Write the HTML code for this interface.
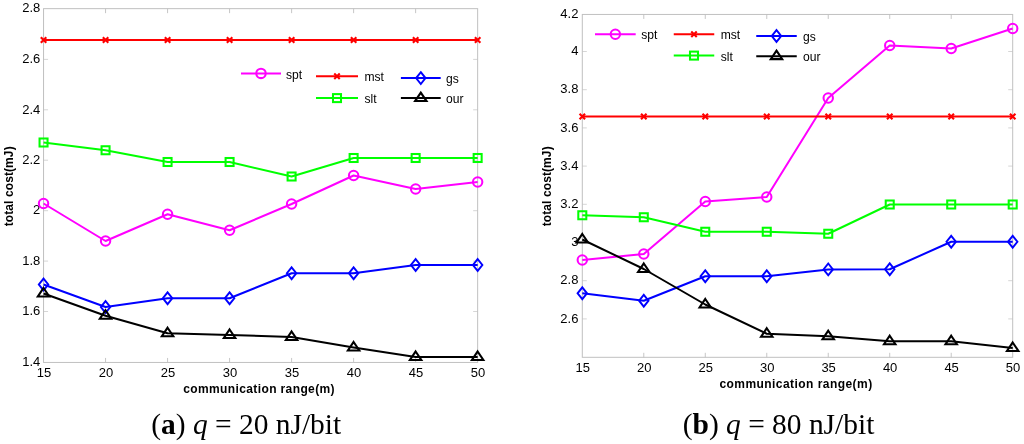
<!DOCTYPE html>
<html><head><meta charset="utf-8"><title>Total cost vs communication range</title>
<style>
html,body{margin:0;padding:0;background:#fff}
body{width:1024px;height:444px;overflow:hidden}
svg{display:block}
text{font-family:"Liberation Sans",Arial,sans-serif;font-size:12px;fill:#000}
.lb{font-weight:bold}
.tk text{font-size:13px}
.lg{font-size:12.1px}
.cap{font-family:"Liberation Serif","Times New Roman",serif;font-size:29.45px}
.cap tspan.b{font-weight:bold}
.cap tspan.i{font-style:italic}
</style></head><body>
<svg width="1024" height="444" viewBox="0 0 1024 444">
<rect width="1024" height="444" fill="#fff"/>
<g id="left">
<rect x="43.55" y="8.65" width="434.1" height="353.8" fill="none" stroke="#c0c0c0" stroke-width="1"/>
<path d="M105.56 362.45v-4.5M105.56 8.65v4.5M167.58 362.45v-4.5M167.58 8.65v4.5M229.59 362.45v-4.5M229.59 8.65v4.5M291.61 362.45v-4.5M291.61 8.65v4.5M353.62 362.45v-4.5M353.62 8.65v4.5M415.64 362.45v-4.5M415.64 8.65v4.5" stroke="#c0c0c0" stroke-width=".9" fill="none"/>
<path d="M43.55 59.4h4.5M477.65 59.4h-4.5M43.55 109.8h4.5M477.65 109.8h-4.5M43.55 160.2h4.5M477.65 160.2h-4.5M43.55 210.7h4.5M477.65 210.7h-4.5M43.55 261.1h4.5M477.65 261.1h-4.5M43.55 311.5h4.5M477.65 311.5h-4.5" stroke="#c0c0c0" stroke-width=".65" fill="none"/>
<g class="tk">
<text x="43.95" y="377.25" text-anchor="middle">15</text>
<text x="105.96" y="377.25" text-anchor="middle">20</text>
<text x="167.98" y="377.25" text-anchor="middle">25</text>
<text x="229.99" y="377.25" text-anchor="middle">30</text>
<text x="292.01" y="377.25" text-anchor="middle">35</text>
<text x="354.02" y="377.25" text-anchor="middle">40</text>
<text x="416.04" y="377.25" text-anchor="middle">45</text>
<text x="478.05" y="377.25" text-anchor="middle">50</text>
<text x="40.3" y="12.35" text-anchor="end">2.8</text>
<text x="40.3" y="63.1" text-anchor="end">2.6</text>
<text x="40.3" y="113.5" text-anchor="end">2.4</text>
<text x="40.3" y="163.9" text-anchor="end">2.2</text>
<text x="40.3" y="214.4" text-anchor="end">2</text>
<text x="40.3" y="264.8" text-anchor="end">1.8</text>
<text x="40.3" y="315.2" text-anchor="end">1.6</text>
<text x="40.3" y="366.15" text-anchor="end">1.4</text>
</g>
<text class="lb" x="259.1" y="393.1" text-anchor="middle" style="letter-spacing:0.38px">communication range(m)</text>
<text class="lb" transform="translate(12.8 186.3) rotate(-90)" text-anchor="middle" style="letter-spacing:.1px">total cost(mJ)</text>
<polyline points="43.55,203.5 105.56,241 167.58,214.25 229.59,230.25 291.61,204 353.62,175.5 415.64,189 477.65,182" fill="none" stroke="#ff00ff" stroke-width="2.0" stroke-linejoin="round"/>
<circle cx="43.55" cy="203.5" r="4.7" fill="none" stroke="#ff00ff" stroke-width="2.05"/>
<circle cx="105.56" cy="241" r="4.7" fill="none" stroke="#ff00ff" stroke-width="2.05"/>
<circle cx="167.58" cy="214.25" r="4.7" fill="none" stroke="#ff00ff" stroke-width="2.05"/>
<circle cx="229.59" cy="230.25" r="4.7" fill="none" stroke="#ff00ff" stroke-width="2.05"/>
<circle cx="291.61" cy="204" r="4.7" fill="none" stroke="#ff00ff" stroke-width="2.05"/>
<circle cx="353.62" cy="175.5" r="4.7" fill="none" stroke="#ff00ff" stroke-width="2.05"/>
<circle cx="415.64" cy="189" r="4.7" fill="none" stroke="#ff00ff" stroke-width="2.05"/>
<circle cx="477.65" cy="182" r="4.7" fill="none" stroke="#ff00ff" stroke-width="2.05"/>
<polyline points="43.55,40.1 105.56,40.1 167.58,40.1 229.59,40.1 291.61,40.1 353.62,40.1 415.64,40.1 477.65,40.1" fill="none" stroke="#ff0000" stroke-width="2.0" stroke-linejoin="round"/>
<path d="M40.8 37.35L46.3 42.85M40.8 42.85L46.3 37.35" fill="none" stroke="#ff0000" stroke-width="2.1"/>
<path d="M102.81 37.35L108.31 42.85M102.81 42.85L108.31 37.35" fill="none" stroke="#ff0000" stroke-width="2.1"/>
<path d="M164.83 37.35L170.33 42.85M164.83 42.85L170.33 37.35" fill="none" stroke="#ff0000" stroke-width="2.1"/>
<path d="M226.84 37.35L232.34 42.85M226.84 42.85L232.34 37.35" fill="none" stroke="#ff0000" stroke-width="2.1"/>
<path d="M288.86 37.35L294.36 42.85M288.86 42.85L294.36 37.35" fill="none" stroke="#ff0000" stroke-width="2.1"/>
<path d="M350.87 37.35L356.37 42.85M350.87 42.85L356.37 37.35" fill="none" stroke="#ff0000" stroke-width="2.1"/>
<path d="M412.89 37.35L418.39 42.85M412.89 42.85L418.39 37.35" fill="none" stroke="#ff0000" stroke-width="2.1"/>
<path d="M474.9 37.35L480.4 42.85M474.9 42.85L480.4 37.35" fill="none" stroke="#ff0000" stroke-width="2.1"/>
<polyline points="43.55,142.5 105.56,150.25 167.58,162 229.59,162 291.61,176.5 353.62,158 415.64,158 477.65,158" fill="none" stroke="#00ff00" stroke-width="2.0" stroke-linejoin="round"/>
<rect x="39.55" y="138.5" width="8" height="8" fill="none" stroke="#00ff00" stroke-width="2.05"/>
<rect x="101.56" y="146.25" width="8" height="8" fill="none" stroke="#00ff00" stroke-width="2.05"/>
<rect x="163.58" y="158" width="8" height="8" fill="none" stroke="#00ff00" stroke-width="2.05"/>
<rect x="225.59" y="158" width="8" height="8" fill="none" stroke="#00ff00" stroke-width="2.05"/>
<rect x="287.61" y="172.5" width="8" height="8" fill="none" stroke="#00ff00" stroke-width="2.05"/>
<rect x="349.62" y="154" width="8" height="8" fill="none" stroke="#00ff00" stroke-width="2.05"/>
<rect x="411.64" y="154" width="8" height="8" fill="none" stroke="#00ff00" stroke-width="2.05"/>
<rect x="473.65" y="154" width="8" height="8" fill="none" stroke="#00ff00" stroke-width="2.05"/>
<polyline points="43.55,284.5 105.56,307 167.58,298.25 229.59,298.25 291.61,273.25 353.62,273.25 415.64,265 477.65,265" fill="none" stroke="#0000ff" stroke-width="2.0" stroke-linejoin="round"/>
<path d="M43.55 278.6L48.25 284.5L43.55 290.4L38.85 284.5Z" fill="none" stroke="#0000ff" stroke-width="1.95" stroke-linejoin="miter"/>
<path d="M105.56 301.1L110.26 307L105.56 312.9L100.86 307Z" fill="none" stroke="#0000ff" stroke-width="1.95" stroke-linejoin="miter"/>
<path d="M167.58 292.35L172.28 298.25L167.58 304.15L162.88 298.25Z" fill="none" stroke="#0000ff" stroke-width="1.95" stroke-linejoin="miter"/>
<path d="M229.59 292.35L234.29 298.25L229.59 304.15L224.89 298.25Z" fill="none" stroke="#0000ff" stroke-width="1.95" stroke-linejoin="miter"/>
<path d="M291.61 267.35L296.31 273.25L291.61 279.15L286.91 273.25Z" fill="none" stroke="#0000ff" stroke-width="1.95" stroke-linejoin="miter"/>
<path d="M353.62 267.35L358.32 273.25L353.62 279.15L348.92 273.25Z" fill="none" stroke="#0000ff" stroke-width="1.95" stroke-linejoin="miter"/>
<path d="M415.64 259.1L420.34 265L415.64 270.9L410.94 265Z" fill="none" stroke="#0000ff" stroke-width="1.95" stroke-linejoin="miter"/>
<path d="M477.65 259.1L482.35 265L477.65 270.9L472.95 265Z" fill="none" stroke="#0000ff" stroke-width="1.95" stroke-linejoin="miter"/>
<polyline points="43.55,293.5 105.56,315.75 167.58,333.25 229.59,335 291.61,337 353.62,347.5 415.64,357 477.65,357" fill="none" stroke="#000000" stroke-width="2.0" stroke-linejoin="round"/>
<path d="M43.55 288L49.25 296.45L37.85 296.45Z" fill="none" stroke="#000000" stroke-width="2.1" stroke-linejoin="miter"/>
<path d="M105.56 310.25L111.26 318.7L99.86 318.7Z" fill="none" stroke="#000000" stroke-width="2.1" stroke-linejoin="miter"/>
<path d="M167.58 327.75L173.28 336.2L161.88 336.2Z" fill="none" stroke="#000000" stroke-width="2.1" stroke-linejoin="miter"/>
<path d="M229.59 329.5L235.29 337.95L223.89 337.95Z" fill="none" stroke="#000000" stroke-width="2.1" stroke-linejoin="miter"/>
<path d="M291.61 331.5L297.31 339.95L285.91 339.95Z" fill="none" stroke="#000000" stroke-width="2.1" stroke-linejoin="miter"/>
<path d="M353.62 342L359.32 350.45L347.92 350.45Z" fill="none" stroke="#000000" stroke-width="2.1" stroke-linejoin="miter"/>
<path d="M415.64 351.5L421.34 359.95L409.94 359.95Z" fill="none" stroke="#000000" stroke-width="2.1" stroke-linejoin="miter"/>
<path d="M477.65 351.5L483.35 359.95L471.95 359.95Z" fill="none" stroke="#000000" stroke-width="2.1" stroke-linejoin="miter"/>
<path d="M241 73.4H281" stroke="#ff00ff" stroke-width="2.0"/>
<circle cx="261" cy="73.4" r="4.7" fill="none" stroke="#ff00ff" stroke-width="2.05"/>
<text class="lg" x="286" y="78.5">spt</text>
<path d="M316 76.25H358" stroke="#ff0000" stroke-width="2.0"/>
<path d="M334.25 73.5L339.75 79M334.25 79L339.75 73.5" fill="none" stroke="#ff0000" stroke-width="2.1"/>
<text class="lg" x="364.5" y="81.3">mst</text>
<path d="M400.9 78.1H440.7" stroke="#0000ff" stroke-width="2.0"/>
<path d="M420.8 72.2L425.5 78.1L420.8 84L416.1 78.1Z" fill="none" stroke="#0000ff" stroke-width="1.95" stroke-linejoin="miter"/>
<text class="lg" x="446" y="82.9">gs</text>
<path d="M316 98.1H358" stroke="#00ff00" stroke-width="2.0"/>
<rect x="333" y="94.1" width="8" height="8" fill="none" stroke="#00ff00" stroke-width="2.05"/>
<text class="lg" x="364.5" y="102.9">slt</text>
<path d="M400.9 98.1H440.7" stroke="#000000" stroke-width="2.0"/>
<path d="M420.8 92.6L426.5 101.05L415.1 101.05Z" fill="none" stroke="#000000" stroke-width="2.1" stroke-linejoin="miter"/>
<text class="lg" x="446" y="102.8">our</text>
</g>
<g id="right">
<rect x="582.3" y="14.45" width="430.4" height="342.85" fill="none" stroke="#c0c0c0" stroke-width="1"/>
<path d="M643.79 357.3v-4.5M643.79 14.45v4.5M705.27 357.3v-4.5M705.27 14.45v4.5M766.76 357.3v-4.5M766.76 14.45v4.5M828.24 357.3v-4.5M828.24 14.45v4.5M889.73 357.3v-4.5M889.73 14.45v4.5M951.21 357.3v-4.5M951.21 14.45v4.5" stroke="#c0c0c0" stroke-width=".9" fill="none"/>
<path d="M582.3 51.5h4.5M1012.7 51.5h-4.5M582.3 89.7h4.5M1012.7 89.7h-4.5M582.3 127.9h4.5M1012.7 127.9h-4.5M582.3 166.1h4.5M1012.7 166.1h-4.5M582.3 204.3h4.5M1012.7 204.3h-4.5M582.3 242.5h4.5M1012.7 242.5h-4.5M582.3 280.7h4.5M1012.7 280.7h-4.5M582.3 318.9h4.5M1012.7 318.9h-4.5" stroke="#c0c0c0" stroke-width=".65" fill="none"/>
<g class="tk">
<text x="582.7" y="372.1" text-anchor="middle">15</text>
<text x="644.19" y="372.1" text-anchor="middle">20</text>
<text x="705.67" y="372.1" text-anchor="middle">25</text>
<text x="767.16" y="372.1" text-anchor="middle">30</text>
<text x="828.64" y="372.1" text-anchor="middle">35</text>
<text x="890.13" y="372.1" text-anchor="middle">40</text>
<text x="951.61" y="372.1" text-anchor="middle">45</text>
<text x="1013.1" y="372.1" text-anchor="middle">50</text>
<text x="578.4" y="18.15" text-anchor="end">4.2</text>
<text x="578.4" y="55.2" text-anchor="end">4</text>
<text x="578.4" y="93.4" text-anchor="end">3.8</text>
<text x="578.4" y="131.6" text-anchor="end">3.6</text>
<text x="578.4" y="169.8" text-anchor="end">3.4</text>
<text x="578.4" y="208" text-anchor="end">3.2</text>
<text x="578.4" y="246.2" text-anchor="end">3</text>
<text x="578.4" y="284.4" text-anchor="end">2.8</text>
<text x="578.4" y="322.6" text-anchor="end">2.6</text>
</g>
<text class="lb" x="796" y="388.3" text-anchor="middle" style="letter-spacing:0.45px">communication range(m)</text>
<text class="lb" transform="translate(551.2 186.3) rotate(-90)" text-anchor="middle" style="letter-spacing:.1px">total cost(mJ)</text>
<polyline points="582.3,260 643.79,254 705.27,201.5 766.76,197 828.24,98 889.73,45.5 951.21,48.5 1012.7,28.5" fill="none" stroke="#ff00ff" stroke-width="2.0" stroke-linejoin="round"/>
<circle cx="582.3" cy="260" r="4.7" fill="none" stroke="#ff00ff" stroke-width="2.05"/>
<circle cx="643.79" cy="254" r="4.7" fill="none" stroke="#ff00ff" stroke-width="2.05"/>
<circle cx="705.27" cy="201.5" r="4.7" fill="none" stroke="#ff00ff" stroke-width="2.05"/>
<circle cx="766.76" cy="197" r="4.7" fill="none" stroke="#ff00ff" stroke-width="2.05"/>
<circle cx="828.24" cy="98" r="4.7" fill="none" stroke="#ff00ff" stroke-width="2.05"/>
<circle cx="889.73" cy="45.5" r="4.7" fill="none" stroke="#ff00ff" stroke-width="2.05"/>
<circle cx="951.21" cy="48.5" r="4.7" fill="none" stroke="#ff00ff" stroke-width="2.05"/>
<circle cx="1012.7" cy="28.5" r="4.7" fill="none" stroke="#ff00ff" stroke-width="2.05"/>
<polyline points="582.3,116.6 643.79,116.6 705.27,116.6 766.76,116.6 828.24,116.6 889.73,116.6 951.21,116.6 1012.7,116.6" fill="none" stroke="#ff0000" stroke-width="2.0" stroke-linejoin="round"/>
<path d="M579.55 113.85L585.05 119.35M579.55 119.35L585.05 113.85" fill="none" stroke="#ff0000" stroke-width="2.1"/>
<path d="M641.04 113.85L646.54 119.35M641.04 119.35L646.54 113.85" fill="none" stroke="#ff0000" stroke-width="2.1"/>
<path d="M702.52 113.85L708.02 119.35M702.52 119.35L708.02 113.85" fill="none" stroke="#ff0000" stroke-width="2.1"/>
<path d="M764.01 113.85L769.51 119.35M764.01 119.35L769.51 113.85" fill="none" stroke="#ff0000" stroke-width="2.1"/>
<path d="M825.49 113.85L830.99 119.35M825.49 119.35L830.99 113.85" fill="none" stroke="#ff0000" stroke-width="2.1"/>
<path d="M886.98 113.85L892.48 119.35M886.98 119.35L892.48 113.85" fill="none" stroke="#ff0000" stroke-width="2.1"/>
<path d="M948.46 113.85L953.96 119.35M948.46 119.35L953.96 113.85" fill="none" stroke="#ff0000" stroke-width="2.1"/>
<path d="M1009.95 113.85L1015.45 119.35M1009.95 119.35L1015.45 113.85" fill="none" stroke="#ff0000" stroke-width="2.1"/>
<polyline points="582.3,215.25 643.79,217.25 705.27,231.75 766.76,231.75 828.24,233.75 889.73,204.5 951.21,204.5 1012.7,204.5" fill="none" stroke="#00ff00" stroke-width="2.0" stroke-linejoin="round"/>
<rect x="578.3" y="211.25" width="8" height="8" fill="none" stroke="#00ff00" stroke-width="2.05"/>
<rect x="639.79" y="213.25" width="8" height="8" fill="none" stroke="#00ff00" stroke-width="2.05"/>
<rect x="701.27" y="227.75" width="8" height="8" fill="none" stroke="#00ff00" stroke-width="2.05"/>
<rect x="762.76" y="227.75" width="8" height="8" fill="none" stroke="#00ff00" stroke-width="2.05"/>
<rect x="824.24" y="229.75" width="8" height="8" fill="none" stroke="#00ff00" stroke-width="2.05"/>
<rect x="885.73" y="200.5" width="8" height="8" fill="none" stroke="#00ff00" stroke-width="2.05"/>
<rect x="947.21" y="200.5" width="8" height="8" fill="none" stroke="#00ff00" stroke-width="2.05"/>
<rect x="1008.7" y="200.5" width="8" height="8" fill="none" stroke="#00ff00" stroke-width="2.05"/>
<polyline points="582.3,293.3 643.79,300.7 705.27,276.25 766.76,276.25 828.24,269.4 889.73,269.25 951.21,241.75 1012.7,241.75" fill="none" stroke="#0000ff" stroke-width="2.0" stroke-linejoin="round"/>
<path d="M582.3 287.4L587 293.3L582.3 299.2L577.6 293.3Z" fill="none" stroke="#0000ff" stroke-width="1.95" stroke-linejoin="miter"/>
<path d="M643.79 294.8L648.49 300.7L643.79 306.6L639.09 300.7Z" fill="none" stroke="#0000ff" stroke-width="1.95" stroke-linejoin="miter"/>
<path d="M705.27 270.35L709.97 276.25L705.27 282.15L700.57 276.25Z" fill="none" stroke="#0000ff" stroke-width="1.95" stroke-linejoin="miter"/>
<path d="M766.76 270.35L771.46 276.25L766.76 282.15L762.06 276.25Z" fill="none" stroke="#0000ff" stroke-width="1.95" stroke-linejoin="miter"/>
<path d="M828.24 263.5L832.94 269.4L828.24 275.3L823.54 269.4Z" fill="none" stroke="#0000ff" stroke-width="1.95" stroke-linejoin="miter"/>
<path d="M889.73 263.35L894.43 269.25L889.73 275.15L885.03 269.25Z" fill="none" stroke="#0000ff" stroke-width="1.95" stroke-linejoin="miter"/>
<path d="M951.21 235.85L955.91 241.75L951.21 247.65L946.51 241.75Z" fill="none" stroke="#0000ff" stroke-width="1.95" stroke-linejoin="miter"/>
<path d="M1012.7 235.85L1017.4 241.75L1012.7 247.65L1008 241.75Z" fill="none" stroke="#0000ff" stroke-width="1.95" stroke-linejoin="miter"/>
<polyline points="582.3,239.5 643.79,269 705.27,304.5 766.76,333.75 828.24,336.25 889.73,341.25 951.21,341.25 1012.7,348" fill="none" stroke="#000000" stroke-width="2.0" stroke-linejoin="round"/>
<path d="M582.3 234L588 242.45L576.6 242.45Z" fill="none" stroke="#000000" stroke-width="2.1" stroke-linejoin="miter"/>
<path d="M643.79 263.5L649.49 271.95L638.09 271.95Z" fill="none" stroke="#000000" stroke-width="2.1" stroke-linejoin="miter"/>
<path d="M705.27 299L710.97 307.45L699.57 307.45Z" fill="none" stroke="#000000" stroke-width="2.1" stroke-linejoin="miter"/>
<path d="M766.76 328.25L772.46 336.7L761.06 336.7Z" fill="none" stroke="#000000" stroke-width="2.1" stroke-linejoin="miter"/>
<path d="M828.24 330.75L833.94 339.2L822.54 339.2Z" fill="none" stroke="#000000" stroke-width="2.1" stroke-linejoin="miter"/>
<path d="M889.73 335.75L895.43 344.2L884.03 344.2Z" fill="none" stroke="#000000" stroke-width="2.1" stroke-linejoin="miter"/>
<path d="M951.21 335.75L956.91 344.2L945.51 344.2Z" fill="none" stroke="#000000" stroke-width="2.1" stroke-linejoin="miter"/>
<path d="M1012.7 342.5L1018.4 350.95L1007 350.95Z" fill="none" stroke="#000000" stroke-width="2.1" stroke-linejoin="miter"/>
<path d="M595 34.2H635.7" stroke="#ff00ff" stroke-width="2.0"/>
<circle cx="615.35" cy="34.2" r="4.7" fill="none" stroke="#ff00ff" stroke-width="2.05"/>
<text class="lg" x="641.3" y="39.2">spt</text>
<path d="M673.75 34.2H714.25" stroke="#ff0000" stroke-width="2.0"/>
<path d="M691.25 31.45L696.75 36.95M691.25 36.95L696.75 31.45" fill="none" stroke="#ff0000" stroke-width="2.1"/>
<text class="lg" x="720.75" y="39.2">mst</text>
<path d="M756.25 36H796.75" stroke="#0000ff" stroke-width="2.0"/>
<path d="M776.5 30.1L781.2 36L776.5 41.9L771.8 36Z" fill="none" stroke="#0000ff" stroke-width="1.95" stroke-linejoin="miter"/>
<text class="lg" x="803" y="40.9">gs</text>
<path d="M673.75 55.6H714.25" stroke="#00ff00" stroke-width="2.0"/>
<rect x="690" y="51.6" width="8" height="8" fill="none" stroke="#00ff00" stroke-width="2.05"/>
<text class="lg" x="720.75" y="60.5">slt</text>
<path d="M756.25 56.2H796.75" stroke="#000000" stroke-width="2.0"/>
<path d="M776.5 50.7L782.2 59.15L770.8 59.15Z" fill="none" stroke="#000000" stroke-width="2.1" stroke-linejoin="miter"/>
<text class="lg" x="803" y="60.5">our</text>
</g>
<text class="cap" x="151.2" y="433.6">(<tspan class="b">a</tspan>) <tspan class="i">q</tspan> = 20 nJ/bit</text>
<text class="cap" x="682.7" y="433.5">(<tspan class="b">b</tspan>) <tspan class="i">q</tspan> = 80 nJ/bit</text>
</svg>
</body></html>
